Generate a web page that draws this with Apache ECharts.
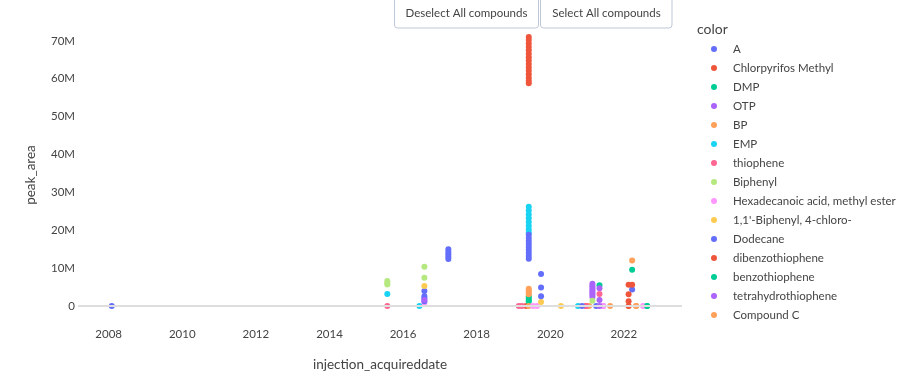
<!DOCTYPE html>
<html><head><meta charset="utf-8">
<script src="https://cdn.jsdelivr.net/npm/echarts@6/dist/echarts.min.js"></script>
<style>html,body{margin:0;padding:0;background:#fff}#c{width:914px;height:374px}</style>
</head><body><div id="c"></div>
<script>
// ---- data (values in millions of peak_area units) ----
const compoundNames = ['A','Chlorpyrifos Methyl','DMP','OTP','BP','EMP','thiophene','Biphenyl',
  'Hexadecanoic acid, methyl ester',"1,1'-Biphenyl, 4-chloro-",'Dodecane','dibenzothiophene',
  'benzothiophene','tetrahydrothiophene','Compound C'];
const compoundColors = ['#636EFA','#EF553B','#00CC96','#AB63FA','#FFA15A','#19D3F3','#FF6692','#B6E880',
  '#FF97FF','#FECB52','#636EFA','#EF553B','#00CC96','#AB63FA','#FFA15A'];
const yTickValues = [0,10,20,30,40,50,60,70];
const xTickYears = [2008,2010,2012,2014,2016,2018,2020,2022];

const dataA = [['2008-02-01',0],['2016-07-31',4.0],['2016-07-31',2.6],['2019-10-02',8.5],['2021-04-01',0]];
const dataChlorpyrifos = [['2019-06-02',71.0],['2019-06-02',70.2],['2019-06-02',69.3],['2019-06-02',68.4],
  ['2019-06-02',67.5],['2019-06-02',66.6],['2019-06-02',65.7],['2019-06-02',64.8],['2019-06-02',63.9],
  ['2019-06-02',63.0],['2019-06-02',62.1],['2019-06-02',61.2],['2019-06-02',60.3],['2019-06-02',59.5],
  ['2019-06-02',58.8],['2019-05-06',0],['2020-12-22',0]];
const dataDMP = [['2019-06-02',2.5],['2019-06-02',2.0],['2019-06-02',1.5],['2019-06-02',1.2],['2021-05-04',5.5],['2022-08-19',0]];
const dataOTP = [['2021-02-23',5.9],['2021-02-23',5.4],['2021-02-23',4.9],['2021-02-23',4.4],['2021-02-23',3.9],
  ['2021-02-23',3.4],['2021-02-23',2.9],['2021-02-23',2.4],['2021-05-04',4.7],['2021-06-10',0]];
const dataBP = [['2019-06-02',4.6],['2019-06-02',4.1],['2019-06-02',3.6],['2019-06-02',3.1],['2019-06-02',0],
  ['2021-01-21',0],['2022-05-03',0]];
const dataEMP = [['2015-07-29',3.2],['2016-06-12',0],['2019-06-02',26.2],['2019-06-02',25.2],['2019-06-02',24.2],
  ['2019-06-02',23.2],['2019-06-02',22.2],['2019-06-02',21.2],['2019-06-02',20.2],['2019-06-02',19.4],['2020-10-03',0]];
const dataThiophene = [['2015-07-29',0],['2019-02-23',0],['2019-03-27',0],['2021-05-04',3.2],['2020-12-22',0]];
const dataBiphenyl = [['2015-07-29',6.6],['2015-07-29',6.1],['2015-07-29',5.7],['2016-07-31',10.4],['2016-07-31',7.5],['2021-02-23',1.4]];
const dataHexadecanoic = [['2016-07-31',0.9],['2019-07-14',0],['2019-08-23',0],['2021-06-10',0],['2022-07-10',0]];
const dataChloroBiphenyl = [['2016-07-31',5.3],['2019-10-02',1.1],['2020-04-17',0],['2022-02-17',0]];
const dataDodecane = [['2016-07-31',2.0],['2016-07-31',1.3],['2017-03-26',15.0],['2017-03-26',14.3],['2017-03-26',13.7],
  ['2017-03-26',13.0],['2017-03-26',12.4],['2019-06-02',18.8],['2019-06-02',18.0],['2019-06-02',17.2],['2019-06-02',16.4],
  ['2019-06-02',15.6],['2019-06-02',14.8],['2019-06-02',14.0],['2019-06-02',13.2],['2019-06-02',12.5],
  ['2019-10-02',4.9],['2019-10-02',2.6],['2020-11-12',0],['2022-03-24',4.4]];
const dataDibenzothiophene = [['2022-02-17',5.6],['2022-02-17',3.1],['2022-02-17',1.3],['2022-03-24',5.6],['2022-02-17',0]];
const dataBenzothiophene = [['2022-03-24',9.6],['2022-08-19',0]];
const dataTetrahydrothiophene = [['2016-07-31',1.6],['2021-05-04',1.6],['2021-05-04',0]];
const dataCompoundC = [['2022-03-24',12.0],['2021-08-18',0],['2022-05-03',0]];

const allData = [dataA,dataChlorpyrifos,dataDMP,dataOTP,dataBP,dataEMP,dataThiophene,dataBiphenyl,
  dataHexadecanoic,dataChloroBiphenyl,dataDodecane,dataDibenzothiophene,dataBenzothiophene,
  dataTetrahydrothiophene,dataCompoundC];

// ---- chart ----
const FONT = 'Lato';
const TXT = '#444';
const ts = s => Date.parse(s + 'T00:00:00Z');
const chart = echarts.init(document.getElementById('c'));
const series = compoundNames.map((n,i)=>({
  name:n, type:'scatter', symbolSize:6, z:2,
  itemStyle:{color:compoundColors[i], opacity:1},
  data: allData[i].map(d=>[ts(d[0]), d[1]*1e6])
}));
series.push({
  name:'zeroline', type:'scatter', data:[], z:5, silent:true,
  markLine:{silent:true, symbol:'none', label:{show:false},
    lineStyle:{color:'#dedede', width:2, type:'solid'}, data:[{yAxis:0}]}
});

chart.setOption({
  animation:false,
  textStyle:{fontFamily:FONT},
  grid:{left:78, right:232, top:28, bottom:52, containLabel:false, outerBoundsMode:'none'},
  xAxis:{
    type:'value',
    min: ts('2007-03-03'), max: ts('2023-08-01'),
    name:'injection_acquireddate', nameLocation:'middle', nameGap:36,
    nameTextStyle:{fontSize:13.5, color:TXT, fontFamily:FONT},
    axisLine:{show:false}, axisTick:{show:false}, splitLine:{show:false},
    axisLabel:{customValues: xTickYears.map(y=>Date.UTC(y,0,1)),
      formatter: v=>String(new Date(v).getUTCFullYear()), fontSize:11.5, color:TXT, margin:6, fontFamily:FONT}
  },
  yAxis:{
    type:'value', min:-4.2e6, max:73.4e6,
    name:'peak_area', nameLocation:'middle', nameGap:40,
    nameTextStyle:{fontSize:13.5, color:TXT, fontFamily:FONT},
    axisLine:{show:false}, axisTick:{show:false}, splitLine:{show:false},
    axisLabel:{customValues: yTickValues.map(v=>v*1e6),
      formatter: v=> v===0 ? '0' : (v/1e6)+'M', fontSize:11.5, color:TXT, margin:3, fontFamily:FONT}
  },
  legend:{
    orient:'vertical', left:706, top:37, itemGap:5,
    itemWidth:28, itemHeight:6, icon:'circle',
    data: compoundNames,
    textStyle:{fontSize:11.5, color:TXT, lineHeight:14, fontFamily:FONT}
  },
  graphic:[
    {type:'text', left:697, top:22, style:{text:'color', fontSize:14, fill:TXT, fontFamily:FONT}},
    {type:'rect', shape:{x:394.5, y:-5, width:144, height:33, r:3}, style:{fill:'#fff', stroke:'#bec8d9', lineWidth:1}},
    {type:'text', x:466.5, y:13, style:{text:'Deselect All compounds', fontSize:11.5, fill:TXT, fontFamily:FONT, align:'center', verticalAlign:'middle'}},
    {type:'rect', shape:{x:540.5, y:-5, width:131.5, height:33, r:3}, style:{fill:'#fff', stroke:'#bec8d9', lineWidth:1}},
    {type:'text', x:606.5, y:13, style:{text:'Select All compounds', fontSize:11.5, fill:TXT, fontFamily:FONT, align:'center', verticalAlign:'middle'}}
  ],
  series: series
});
</script>
</body></html>
